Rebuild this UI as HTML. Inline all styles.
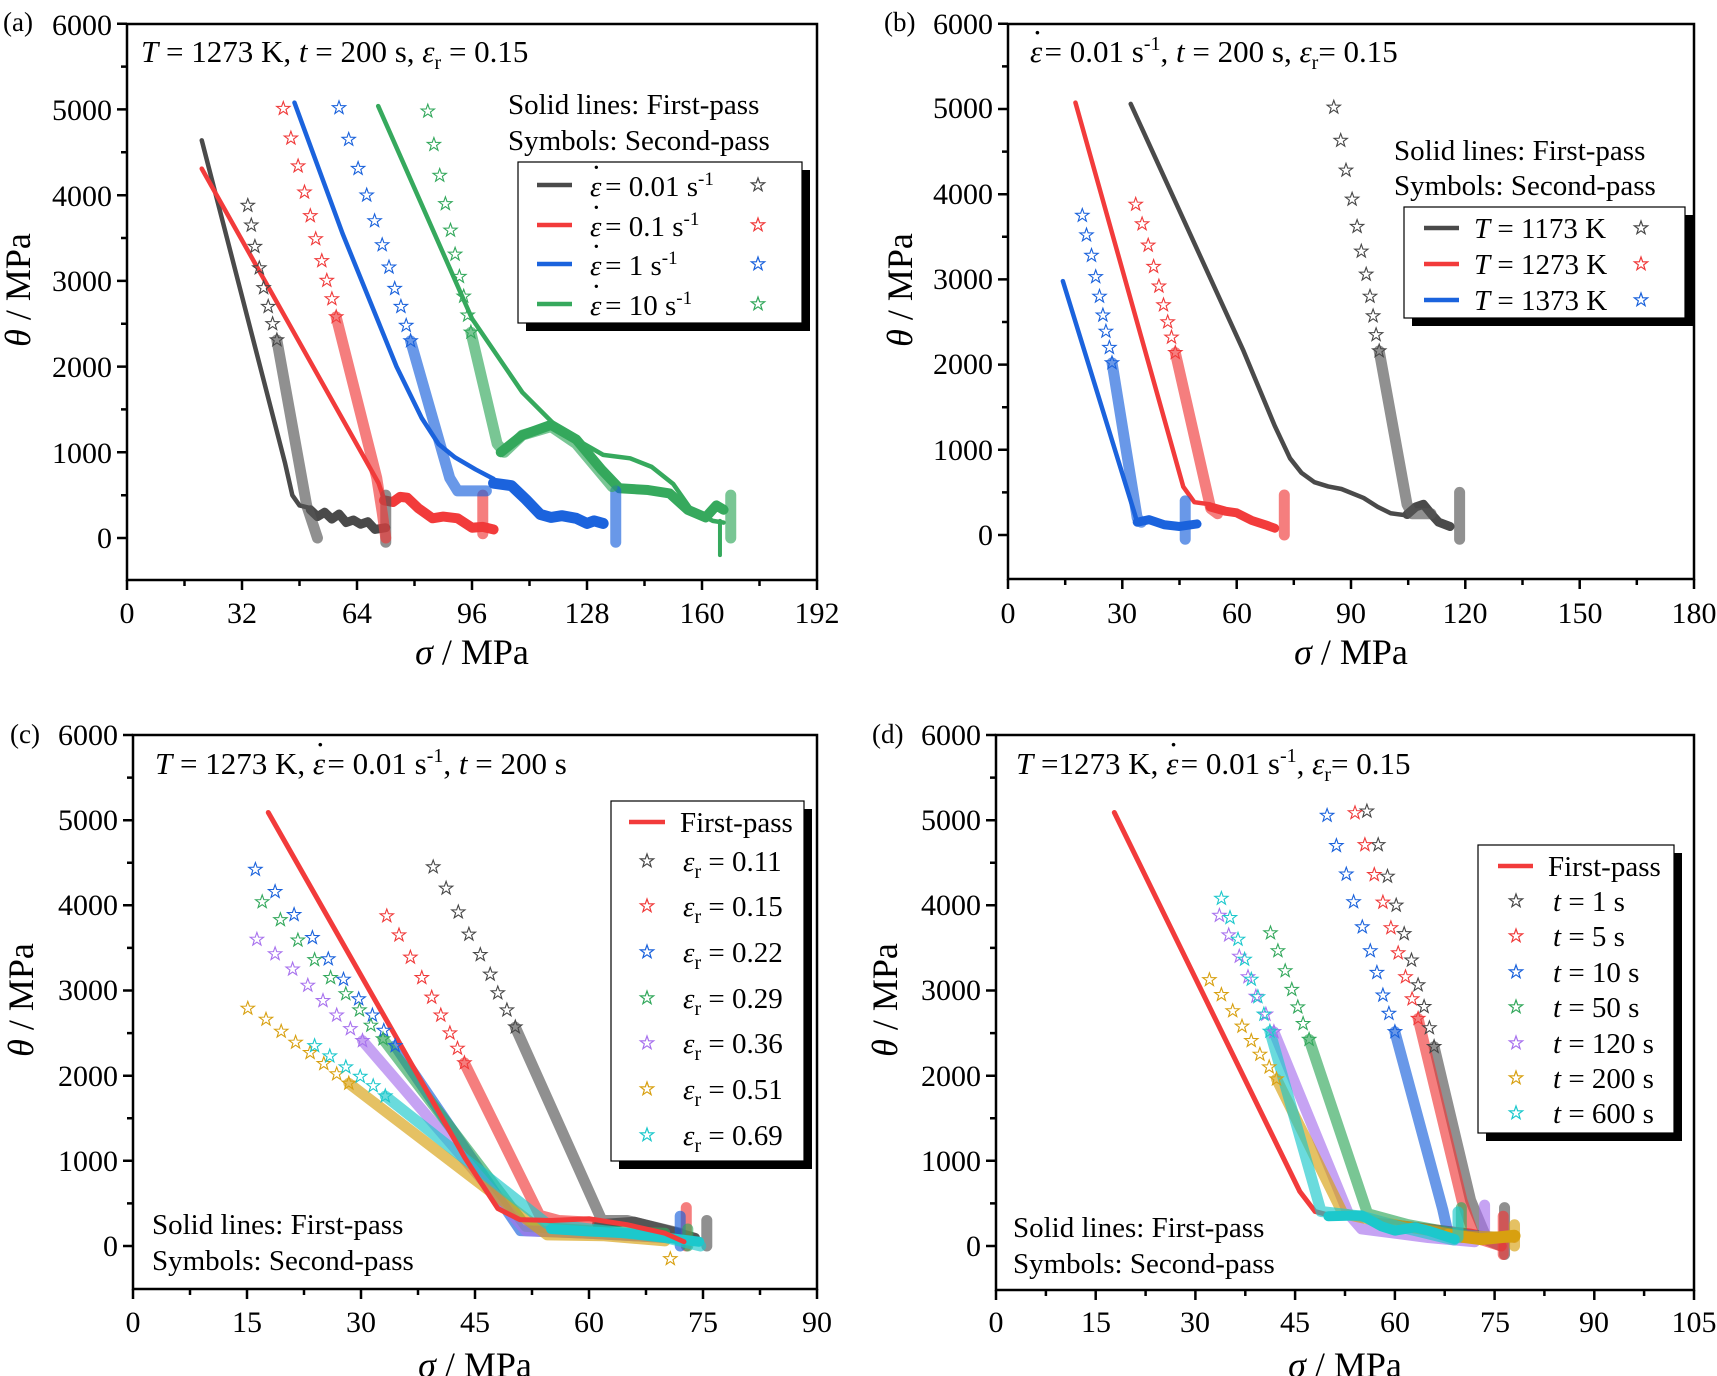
<!DOCTYPE html>
<html><head><meta charset="utf-8">
<style>
html,body{margin:0;padding:0;background:#fff;}
svg{display:block;}
text{font-family:"Liberation Serif","DejaVu Serif",serif;fill:#000;}
.tk{font-size:30px;}
.tl{font-size:36px;}
.an{font-size:31px;}
.lg{font-size:29px;}
.pl{font-size:27px;}
.dl path{vector-effect:non-scaling-stroke;fill:none;stroke-linejoin:round;stroke-linecap:round;}
.sb{stroke-width:11px;opacity:0.65;}
</style></head>
<body>
<svg width="1717" height="1376" viewBox="0 0 1717 1376" xmlns="http://www.w3.org/2000/svg">
<defs>
<path id="st" d="M0,-7 L1.65,-2.27 L6.66,-2.16 L2.66,0.87 L4.11,5.66 L0,2.8 L-4.11,5.66 L-2.66,0.87 L-6.66,-2.16 L-1.65,-2.27 Z"/>
</defs>
<rect width="1717" height="1376" fill="#fff"/>

<!-- ============ PANEL A DATA ============ -->
<g class="dl" transform="translate(127,538) scale(3.59375,-0.0857)">
<path d="M20.8,4640 L44,870 L46,500 L48,380 L51,350" stroke="#4a4a4a" stroke-width="4.5"/>
<path d="M51,330 L53,250 L55,300 L57,220 L59,280 L61,180 L63,210 L65,160 L67,190 L69,100 L72,120" stroke="#4a4a4a" stroke-width="9"/>
<path d="M20.8,4310 L70,640 L71.5,455" stroke="#f23b3b" stroke-width="4.5"/>
<path d="M71.5,440 L74,420 L76,480 L78,470 L81,350 L85,230 L88,250 L92,230 L96,120 L99,130 L102,100" stroke="#f23b3b" stroke-width="10"/>
<path d="M46.6,5080 L60,3550 L75,2000 L82,1400 L86.7,1095 L91.3,940 L97,800 L102,690" stroke="#1b63dd" stroke-width="4.5"/>
<path d="M102,640 L107,610 L111,450 L115,275 L118,240 L121,260 L125,230 L128,170 L130,200 L132.5,170" stroke="#1b63dd" stroke-width="11"/>
<path d="M69.9,5040 L96,2560 L110,1700 L118.8,1330 L125,1150 L132.5,970 L140,930 L146,830 L152,630 L157,330 L163,200 L166,180" stroke="#36a95d" stroke-width="4.5"/>
<path d="M104,1000 L110,1200 L118,1320 L125,1150 L132,800 L137,580 L145,560 L151,520 L156,330 L161,240 L164,380 L166,330" stroke="#36a95d" stroke-width="10"/>
<path d="M165,200 L165,-200" stroke="#36a95d" stroke-width="4"/>
<path class="sb" d="M41.7,2310 L50,380 L53,0" stroke="#555"/>
<path class="sb" d="M72,-50 L72,500" stroke="#555"/>
<path class="sb" d="M58.2,2580 L69.5,700 L71,300 L72,0" stroke="#f03a3a"/>
<path class="sb" d="M99,50 L99,500" stroke="#f03a3a"/>
<path class="sb" d="M78.9,2300 L89.8,700 L92,550 L100,550" stroke="#1a62dc"/>
<path class="sb" d="M136,-50 L136,550" stroke="#1a62dc"/>
<path class="sb" d="M95.7,2400 L103,1100 L105,1000 L110,1200 L118,1300 L125,1100 L135,600" stroke="#33a85c"/>
<path class="sb" d="M168,0 L168,500" stroke="#33a85c"/>
</g>
<g fill="none" stroke-width="1.1">
<g stroke="#474747"><use href="#st" x="247.8" y="205.5"/><use href="#st" x="251.3" y="225.2"/><use href="#st" x="254.9" y="246.6"/><use href="#st" x="259.3" y="268"/><use href="#st" x="263.6" y="287.8"/><use href="#st" x="268.2" y="306.6"/><use href="#st" x="272.6" y="323.8"/><use href="#st" x="276.9" y="340"/></g>
<g stroke="#f03a3a"><use href="#st" x="283.3" y="108.6"/><use href="#st" x="290.9" y="138.2"/><use href="#st" x="298.1" y="166.1"/><use href="#st" x="304.5" y="192.2"/><use href="#st" x="310.3" y="215.8"/><use href="#st" x="315.7" y="238.9"/><use href="#st" x="321.8" y="260.8"/><use href="#st" x="326.8" y="280.5"/><use href="#st" x="331.9" y="298.9"/><use href="#st" x="336.2" y="316.9"/></g>
<g stroke="#1a62dc"><use href="#st" x="339" y="107.8"/><use href="#st" x="348.7" y="139.5"/><use href="#st" x="358.1" y="168.6"/><use href="#st" x="366.7" y="195.2"/><use href="#st" x="374.6" y="220.9"/><use href="#st" x="382.2" y="244.9"/><use href="#st" x="389" y="267.2"/><use href="#st" x="394.7" y="288.6"/><use href="#st" x="400.9" y="306.6"/><use href="#st" x="406.2" y="325.5"/><use href="#st" x="410.6" y="340.9"/></g>
<g stroke="#33a85c"><use href="#st" x="427.8" y="111.2"/><use href="#st" x="433.9" y="144.6"/><use href="#st" x="439.7" y="175.5"/><use href="#st" x="445.4" y="203.8"/><use href="#st" x="450.5" y="230.3"/><use href="#st" x="455.1" y="254.3"/><use href="#st" x="459.4" y="276.6"/><use href="#st" x="463.7" y="296.3"/><use href="#st" x="467.7" y="315.2"/><use href="#st" x="470.9" y="332.3"/></g>
</g>

<!-- ============ PANEL B DATA ============ -->
<g class="dl" transform="translate(1008,535) scale(3.8111,-0.0852)">
<path d="M32.2,5060 L61.8,2160 L70,1280 L74,900 L77,730 L80.4,620 L84,570 L87.5,540 L93.3,435 L97,330 L100.4,255 L104.7,230" stroke="#4a4a4a" stroke-width="4.5"/>
<path d="M104.7,240 L107,330 L109,360 L111,250 L113,150 L116,100" stroke="#4a4a4a" stroke-width="9"/>
<path d="M17.7,5075 L46,565 L48.9,385 L53,360" stroke="#f23b3b" stroke-width="4.5"/>
<path d="M53,330 L57,280 L60,260 L64,170 L67.5,120 L70,80" stroke="#f23b3b" stroke-width="9"/>
<path d="M14.4,2980 L33.2,255 L33.9,150" stroke="#1b63dd" stroke-width="4.5"/>
<path d="M33.9,150 L37,180 L41,120 L45,100 L49.6,130" stroke="#1b63dd" stroke-width="9"/>
<path class="sb" d="M97.4,2160 L104.7,360 L106,250 L111,250" stroke="#555"/>
<path class="sb" d="M118.5,-50 L118.5,500" stroke="#555"/>
<path class="sb" d="M43.9,2140 L53.2,310 L55,250" stroke="#f03a3a"/>
<path class="sb" d="M72.5,0 L72.5,470" stroke="#f03a3a"/>
<path class="sb" d="M27.3,2020 L33.9,200 L35,150" stroke="#1a62dc"/>
<path class="sb" d="M46.5,-50 L46.5,400" stroke="#1a62dc"/>
</g>
<g fill="none" stroke-width="1.1">
<g stroke="#474747"><use href="#st" x="1333.8" y="107.3"/><use href="#st" x="1340.7" y="140.5"/><use href="#st" x="1346" y="170.3"/><use href="#st" x="1352.1" y="199.3"/><use href="#st" x="1357.1" y="226.6"/><use href="#st" x="1361.3" y="251.3"/><use href="#st" x="1366.2" y="274.3"/><use href="#st" x="1370" y="296.4"/><use href="#st" x="1373.1" y="316"/><use href="#st" x="1376.1" y="334.8"/><use href="#st" x="1379.2" y="351"/></g>
<g stroke="#f03a3a"><use href="#st" x="1135.7" y="204.4"/><use href="#st" x="1142.1" y="224"/><use href="#st" x="1148.2" y="245.3"/><use href="#st" x="1153.6" y="266.6"/><use href="#st" x="1158.9" y="286.2"/><use href="#st" x="1163.5" y="305"/><use href="#st" x="1167.7" y="322"/><use href="#st" x="1171.5" y="337.3"/><use href="#st" x="1175.3" y="352.7"/></g>
<g stroke="#1a62dc"><use href="#st" x="1082.3" y="215.5"/><use href="#st" x="1086.5" y="235.1"/><use href="#st" x="1091.5" y="255.5"/><use href="#st" x="1095.7" y="276.8"/><use href="#st" x="1099.5" y="296.4"/><use href="#st" x="1102.9" y="315.2"/><use href="#st" x="1105.9" y="331.4"/><use href="#st" x="1109.4" y="347.6"/><use href="#st" x="1112" y="362.9"/></g>
</g>

<!-- ============ PANEL C DATA ============ -->
<g class="dl" transform="translate(133,1246) scale(7.6,-0.08517)">
<path d="M61,260 L66,290 L70,200 L74,100" stroke="#555" stroke-width="9"/>
<path class="sb" d="M50.3,2570 L61.7,300 L65,300 L72,150" stroke="#555"/>
<path class="sb" d="M75.5,0 L75.5,300" stroke="#555"/>
<path class="sb" d="M43.6,2150 L53.5,360 L56,300 L60,280" stroke="#f03a3a"/>
<path class="sb" d="M72.8,0 L72.8,450" stroke="#f03a3a"/>
<path class="sb" d="M34.5,2350 L51,180 L60,150 L70,100" stroke="#1a62dc"/>
<path class="sb" d="M72,0 L72,350" stroke="#1a62dc"/>
<path class="sb" d="M32.9,2430 L51.7,230 L60,180 L70,150" stroke="#33a85c"/>
<path class="sb" d="M73,0 L73,200" stroke="#33a85c"/>
<path class="sb" d="M30.2,2410 L51.7,180 L60,150 L70,100" stroke="#a872ee"/>
<path class="sb" d="M28.4,1910 L54.5,130 L62,120 L70,60" stroke="#d8a010"/>
<path class="sb" d="M33.2,1760 L54.5,260 L62,180 L70,100 L74.7,0" stroke="#1cc8cc"/>
<path d="M55,200 L60,170 L65,150 L70,100 L74.5,50" stroke="#1cc8cc" stroke-width="10"/>
<path d="M17.8,5090 L43.7,1030 L48,440 L50.9,310 L55,300 L60,320 L65,250 L70,150 L72.5,50" stroke="#f23b3b" stroke-width="5"/>
</g>
<g fill="none" stroke-width="1.1">
<g stroke="#474747"><use href="#st" x="433.2" y="867"/><use href="#st" x="446.1" y="888.3"/><use href="#st" x="458.3" y="912.1"/><use href="#st" x="468.9" y="934.3"/><use href="#st" x="480.3" y="954.7"/><use href="#st" x="490.2" y="974.3"/><use href="#st" x="497.8" y="993"/><use href="#st" x="506.9" y="1010.1"/><use href="#st" x="515.3" y="1027.1"/></g>
<g stroke="#f03a3a"><use href="#st" x="386.8" y="916"/><use href="#st" x="399" y="935.1"/><use href="#st" x="410.4" y="957.3"/><use href="#st" x="421.8" y="977.7"/><use href="#st" x="431.7" y="997.3"/><use href="#st" x="440.8" y="1015.2"/><use href="#st" x="449.9" y="1033.1"/><use href="#st" x="457.5" y="1048.4"/><use href="#st" x="464.4" y="1062.9"/></g>
<g stroke="#1a62dc"><use href="#st" x="255.4" y="869.5"/><use href="#st" x="275.1" y="891.7"/><use href="#st" x="294.1" y="914.7"/><use href="#st" x="312.4" y="937.7"/><use href="#st" x="328.3" y="959"/><use href="#st" x="343.5" y="979.4"/><use href="#st" x="358.7" y="999"/><use href="#st" x="372.4" y="1015.2"/><use href="#st" x="383.8" y="1030.5"/><use href="#st" x="395.2" y="1045.8"/></g>
<g stroke="#33a85c"><use href="#st" x="262.2" y="901.9"/><use href="#st" x="280.4" y="919.8"/><use href="#st" x="297.9" y="940.2"/><use href="#st" x="314.6" y="959.8"/><use href="#st" x="330.6" y="977.7"/><use href="#st" x="345.8" y="993.9"/><use href="#st" x="359.5" y="1010.1"/><use href="#st" x="370.9" y="1025.4"/><use href="#st" x="383" y="1039"/></g>
<g stroke="#a872ee"><use href="#st" x="256.9" y="939.4"/><use href="#st" x="275.1" y="953.9"/><use href="#st" x="292.6" y="969.2"/><use href="#st" x="307.8" y="985.4"/><use href="#st" x="323" y="1000.7"/><use href="#st" x="336.7" y="1015.2"/><use href="#st" x="350.4" y="1028.8"/><use href="#st" x="362.5" y="1040.7"/></g>
<g stroke="#d8a010"><use href="#st" x="247.8" y="1008.4"/><use href="#st" x="266" y="1019.4"/><use href="#st" x="281.2" y="1031.4"/><use href="#st" x="295.6" y="1042.4"/><use href="#st" x="310.1" y="1052.7"/><use href="#st" x="323.8" y="1063.7"/><use href="#st" x="336.7" y="1074"/><use href="#st" x="348.8" y="1083.3"/><use href="#st" x="670.3" y="1258.8"/></g>
<g stroke="#1cc8cc"><use href="#st" x="314.6" y="1045.8"/><use href="#st" x="329.8" y="1056.1"/><use href="#st" x="345.8" y="1067.1"/><use href="#st" x="360.2" y="1076.5"/><use href="#st" x="373.2" y="1085.9"/><use href="#st" x="385.3" y="1096.1"/></g>
</g>

<!-- ============ PANEL D DATA ============ -->
<g class="dl" transform="translate(996,1246) scale(6.6476,-0.08517)">
<path d="M17.8,5090 L45.7,640 L48,405 L50.5,355 L60,280 L71.4,175 L78,70" stroke="#f23b3b" stroke-width="5"/>
<path class="sb" d="M65.9,2340 L71.4,535 L73.9,70 L76,0" stroke="#555"/>
<path class="sb" d="M76.5,-100 L76.5,450" stroke="#555"/>
<path class="sb" d="M63.5,2670 L70.1,535 L72,100 L76,0" stroke="#f03a3a"/>
<path class="sb" d="M76.3,-100 L76.3,350" stroke="#f03a3a"/>
<path class="sb" d="M60,2515 L67.2,430 L68,150 L75,100" stroke="#1a62dc"/>
<path class="sb" d="M47.1,2425 L55.9,380 L62,250 L69,150" stroke="#33a85c"/>
<path class="sb" d="M70,100 L70,450" stroke="#33a85c"/>
<path class="sb" d="M41.8,2515 L53,380 L55,200 L65,100 L72,50" stroke="#a872ee"/>
<path class="sb" d="M73.5,100 L73.5,480" stroke="#a872ee"/>
<path class="sb" d="M42.2,1960 L52.2,380 L60,250 L70,120 L78,100" stroke="#d8a010"/>
<path d="M68,130 L73,80 L78,120" stroke="#d8a010" stroke-width="12"/>
<path class="sb" d="M78,0 L78,250" stroke="#d8a010"/>
<path class="sb" d="M41.2,2520 L48.9,405 L55,350 L62,200 L68.9,70" stroke="#1cc8cc"/>
<path d="M50,350 L55,360 L58,230 L60,180 L63,220 L65,180 L69,80" stroke="#1cc8cc" stroke-width="10"/>
<path class="sb" d="M69.5,100 L69.5,400" stroke="#1cc8cc"/>
</g>
<g fill="none" stroke-width="1.1">
<g stroke="#474747"><use href="#st" x="1366.9" y="811.2"/><use href="#st" x="1378.2" y="844.8"/><use href="#st" x="1387.5" y="876.4"/><use href="#st" x="1396.2" y="905.3"/><use href="#st" x="1404.2" y="933.8"/><use href="#st" x="1411.5" y="960.2"/><use href="#st" x="1418.1" y="985"/><use href="#st" x="1424.1" y="1006.7"/><use href="#st" x="1429.4" y="1027.9"/><use href="#st" x="1434.1" y="1046.7"/></g>
<g stroke="#f03a3a"><use href="#st" x="1355" y="812.9"/><use href="#st" x="1364.9" y="844.8"/><use href="#st" x="1374.3" y="874.7"/><use href="#st" x="1382.9" y="902.3"/><use href="#st" x="1390.9" y="927.9"/><use href="#st" x="1398.2" y="953"/><use href="#st" x="1405.5" y="976.9"/><use href="#st" x="1412.1" y="999"/><use href="#st" x="1418.1" y="1018.6"/></g>
<g stroke="#1a62dc"><use href="#st" x="1327.1" y="815.5"/><use href="#st" x="1336.4" y="845.7"/><use href="#st" x="1346.3" y="874.2"/><use href="#st" x="1353.6" y="901.9"/><use href="#st" x="1362.3" y="927"/><use href="#st" x="1370.3" y="950.9"/><use href="#st" x="1376.9" y="972.6"/><use href="#st" x="1382.9" y="995.2"/><use href="#st" x="1388.9" y="1013.5"/><use href="#st" x="1394.9" y="1031.8"/></g>
<g stroke="#33a85c"><use href="#st" x="1270.5" y="933"/><use href="#st" x="1277.9" y="950.9"/><use href="#st" x="1285.2" y="970.9"/><use href="#st" x="1291.8" y="989.6"/><use href="#st" x="1297.8" y="1007.1"/><use href="#st" x="1303.1" y="1023.7"/><use href="#st" x="1309.1" y="1039.5"/></g>
<g stroke="#a872ee"><use href="#st" x="1219.4" y="915.5"/><use href="#st" x="1228.7" y="935.1"/><use href="#st" x="1239.3" y="956.4"/><use href="#st" x="1248" y="976.9"/><use href="#st" x="1255.9" y="996.4"/><use href="#st" x="1265.9" y="1014.3"/><use href="#st" x="1273.9" y="1031.8"/></g>
<g stroke="#d8a010"><use href="#st" x="1209.4" y="979.8"/><use href="#st" x="1221.4" y="994.7"/><use href="#st" x="1232.7" y="1010.9"/><use href="#st" x="1242" y="1026.3"/><use href="#st" x="1251.3" y="1040.7"/><use href="#st" x="1259.9" y="1054.4"/><use href="#st" x="1269.2" y="1067.1"/><use href="#st" x="1276.5" y="1079.1"/></g>
<g stroke="#1cc8cc"><use href="#st" x="1221.4" y="898.5"/><use href="#st" x="1230" y="917.7"/><use href="#st" x="1238" y="939.4"/><use href="#st" x="1244.6" y="959.4"/><use href="#st" x="1251.3" y="979.4"/><use href="#st" x="1257.9" y="996.9"/><use href="#st" x="1263.9" y="1014.3"/><use href="#st" x="1269.9" y="1031.4"/></g>
</g>

<!-- ============ AXES ============ -->
<g stroke="#000" stroke-width="2.5" fill="none">
<path d="M127,24H817V580H127Z"/>
<path d="M127,580v10M242,580v10M357,580v10M472,580v10M587,580v10M702,580v10M817,580v10M184.5,580v6M299.5,580v6M414.5,580v6M529.5,580v6M644.5,580v6M759.5,580v6"/>
<path d="M127,538h-10M127,495.2h-6M127,452.3h-10M127,409.4h-6M127,366.6h-10M127,323.7h-6M127,280.9h-10M127,238h-6M127,195.2h-10M127,152.3h-6M127,109.4h-10M127,66.6h-6M127,23.7h-10"/>
<path d="M1008,24H1694V579H1008Z"/>
<path d="M1008,579v10M1122.3,579v10M1236.7,579v10M1351,579v10M1465.3,579v10M1579.7,579v10M1694,579v10M1065.2,579v6M1179.5,579v6M1293.8,579v6M1408.2,579v6M1522.5,579v6M1636.8,579v6"/>
<path d="M1008,535h-10M1008,492.4h-6M1008,449.8h-10M1008,407.2h-6M1008,364.6h-10M1008,322h-6M1008,279.4h-10M1008,236.8h-6M1008,194.2h-10M1008,151.6h-6M1008,109h-10M1008,66.4h-6M1008,23.8h-10"/>
<path d="M133,735H817V1289H133Z"/>
<path d="M133,1289v10M247,1289v10M361,1289v10M475,1289v10M589,1289v10M703,1289v10M817,1289v10M190,1289v6M304,1289v6M418,1289v6M532,1289v6M646,1289v6M760,1289v6"/>
<path d="M133,1246h-10M133,1203.4h-6M133,1160.8h-10M133,1118.2h-6M133,1075.7h-10M133,1033.1h-6M133,990.5h-10M133,947.9h-6M133,905.3h-10M133,862.7h-6M133,820.2h-10M133,777.6h-6M133,735h-10"/>
<path d="M996,735H1694V1290H996Z"/>
<path d="M996,1290v10M1095.7,1290v10M1195.4,1290v10M1295.1,1290v10M1394.9,1290v10M1494.6,1290v10M1594.3,1290v10M1694,1290v10M1045.9,1290v6M1145.6,1290v6M1245.3,1290v6M1345,1290v6M1444.7,1290v6M1544.4,1290v6M1644.1,1290v6"/>
<path d="M996,1246h-10M996,1203.4h-6M996,1160.8h-10M996,1118.2h-6M996,1075.7h-10M996,1033.1h-6M996,990.5h-10M996,947.9h-6M996,905.3h-10M996,862.7h-6M996,820.2h-10M996,777.6h-6M996,735h-10"/>
</g>

<!-- Panel letters -->
<text class="pl" x="3" y="31">(a)</text>
<text class="pl" x="884" y="31">(b)</text>
<text class="pl" x="10" y="743">(c)</text>
<text class="pl" x="872" y="743">(d)</text>

<!-- Tick labels -->
<g class="tk" text-anchor="end">
<text x="112" y="548">0</text><text x="112" y="463">1000</text><text x="112" y="377">2000</text><text x="112" y="291">3000</text><text x="112" y="206">4000</text><text x="112" y="120">5000</text><text x="112" y="35">6000</text>
<text x="993" y="545">0</text><text x="993" y="460">1000</text><text x="993" y="374">2000</text><text x="993" y="289">3000</text><text x="993" y="204">4000</text><text x="993" y="118">5000</text><text x="993" y="34">6000</text>
<text x="118" y="1256">0</text><text x="118" y="1171">1000</text><text x="118" y="1086">2000</text><text x="118" y="1000">3000</text><text x="118" y="915">4000</text><text x="118" y="830">5000</text><text x="118" y="745">6000</text>
<text x="981" y="1256">0</text><text x="981" y="1171">1000</text><text x="981" y="1086">2000</text><text x="981" y="1000">3000</text><text x="981" y="915">4000</text><text x="981" y="830">5000</text><text x="981" y="745">6000</text>
</g>
<g class="tk" text-anchor="middle">
<text x="127" y="623">0</text><text x="242" y="623">32</text><text x="357" y="623">64</text><text x="472" y="623">96</text><text x="587" y="623">128</text><text x="702" y="623">160</text><text x="817" y="623">192</text>
<text x="1008" y="623">0</text><text x="1122" y="623">30</text><text x="1237" y="623">60</text><text x="1351" y="623">90</text><text x="1465" y="623">120</text><text x="1580" y="623">150</text><text x="1694" y="623">180</text>
<text x="133" y="1332">0</text><text x="247" y="1332">15</text><text x="361" y="1332">30</text><text x="475" y="1332">45</text><text x="589" y="1332">60</text><text x="703" y="1332">75</text><text x="817" y="1332">90</text>
<text x="996" y="1332">0</text><text x="1096" y="1332">15</text><text x="1195" y="1332">30</text><text x="1295" y="1332">45</text><text x="1395" y="1332">60</text><text x="1495" y="1332">75</text><text x="1594" y="1332">90</text><text x="1694" y="1332">105</text>
</g>
<g class="tl" text-anchor="middle">
<text x="472" y="664"><tspan font-style="italic">σ</tspan> / MPa</text>
<text x="1351" y="664"><tspan font-style="italic">σ</tspan> / MPa</text>
<text x="475" y="1377"><tspan font-style="italic">σ</tspan> / MPa</text>
<text x="1345" y="1377"><tspan font-style="italic">σ</tspan> / MPa</text>
<text transform="translate(30,290) rotate(-90)"><tspan font-style="italic">θ</tspan> / MPa</text>
<text transform="translate(912,290) rotate(-90)"><tspan font-style="italic">θ</tspan> / MPa</text>
<text transform="translate(33,1000) rotate(-90)"><tspan font-style="italic">θ</tspan> / MPa</text>
<text transform="translate(897,1000) rotate(-90)"><tspan font-style="italic">θ</tspan> / MPa</text>
</g>

<!-- Annotations -->
<g class="an">
<text x="141" y="62"><tspan font-style="italic">T</tspan> = 1273 K, <tspan font-style="italic">t</tspan> = 200 s, <tspan font-style="italic">ε</tspan><tspan font-size="20" dy="7">r</tspan><tspan dy="-7"> = 0.15</tspan></text>
<text x="1030" y="62"><tspan font-style="italic">ε</tspan><tspan dx="-10" dy="-19">·</tspan><tspan dx="2" dy="19">= 0.01 s</tspan><tspan font-size="20" dy="-12">-1</tspan><tspan dy="12">, </tspan><tspan font-style="italic">t</tspan> = 200 s, <tspan font-style="italic">ε</tspan><tspan font-size="20" dy="7">r</tspan><tspan dy="-7">= 0.15</tspan></text>
<text x="155" y="774"><tspan font-style="italic">T</tspan> = 1273 K, <tspan font-style="italic">ε</tspan><tspan dx="-10" dy="-19">·</tspan><tspan dx="2" dy="19">= 0.01 s</tspan><tspan font-size="20" dy="-12">-1</tspan><tspan dy="12">, </tspan><tspan font-style="italic">t</tspan> = 200 s</text>
<text x="1016" y="774"><tspan font-style="italic">T</tspan> =1273 K, <tspan font-style="italic">ε</tspan><tspan dx="-10" dy="-19">·</tspan><tspan dx="2" dy="19">= 0.01 s</tspan><tspan font-size="20" dy="-12">-1</tspan><tspan dy="12">, </tspan><tspan font-style="italic">ε</tspan><tspan font-size="20" dy="7">r</tspan><tspan dy="-7">= 0.15</tspan></text>
</g>

<g class="lg">
<text x="508" y="114">Solid lines: First-pass</text>
<text x="508" y="150">Symbols: Second-pass</text>
<text x="1394" y="160">Solid lines: First-pass</text>
<text x="1394" y="195">Symbols: Second-pass</text>
<text x="152" y="1234">Solid lines: First-pass</text>
<text x="152" y="1270">Symbols: Second-pass</text>
<text x="1013" y="1237">Solid lines: First-pass</text>
<text x="1013" y="1273">Symbols: Second-pass</text>
</g>

<!-- Legend boxes -->
<rect x="526" y="170" width="284" height="161" fill="#000"/>
<rect x="518" y="162" width="284" height="161" fill="#fff" stroke="#000" stroke-width="1.2"/>
<rect x="1412" y="215" width="281" height="111" fill="#000"/>
<rect x="1404" y="207" width="281" height="111" fill="#fff" stroke="#000" stroke-width="1.2"/>
<rect x="619" y="809" width="193" height="360" fill="#000"/>
<rect x="611" y="801" width="193" height="360" fill="#fff" stroke="#000" stroke-width="1.2"/>
<rect x="1486" y="853" width="196" height="288" fill="#000"/>
<rect x="1478" y="845" width="196" height="288" fill="#fff" stroke="#000" stroke-width="1.2"/>

<g class="lg">
<text x="590" y="196"><tspan font-style="italic">ε</tspan><tspan dx="-10" dy="-19">·</tspan><tspan dx="4" dy="19">= 0.01 s</tspan><tspan font-size="19" dy="-11">-1</tspan></text>
<text x="590" y="236"><tspan font-style="italic">ε</tspan><tspan dx="-10" dy="-19">·</tspan><tspan dx="4" dy="19">= 0.1 s</tspan><tspan font-size="19" dy="-11">-1</tspan></text>
<text x="590" y="275"><tspan font-style="italic">ε</tspan><tspan dx="-10" dy="-19">·</tspan><tspan dx="4" dy="19">= 1 s</tspan><tspan font-size="19" dy="-11">-1</tspan></text>
<text x="590" y="315"><tspan font-style="italic">ε</tspan><tspan dx="-10" dy="-19">·</tspan><tspan dx="4" dy="19">= 10 s</tspan><tspan font-size="19" dy="-11">-1</tspan></text>

<text x="1474" y="238"><tspan font-style="italic">T</tspan> = 1173 K</text>
<text x="1474" y="274"><tspan font-style="italic">T</tspan> = 1273 K</text>
<text x="1474" y="310"><tspan font-style="italic">T</tspan> = 1373 K</text>

<text x="680" y="832">First-pass</text>
<text x="683" y="871"><tspan font-style="italic">ε</tspan><tspan font-size="20" dy="7">r</tspan><tspan dy="-7"> = 0.11</tspan></text>
<text x="683" y="916"><tspan font-style="italic">ε</tspan><tspan font-size="20" dy="7">r</tspan><tspan dy="-7"> = 0.15</tspan></text>
<text x="683" y="962"><tspan font-style="italic">ε</tspan><tspan font-size="20" dy="7">r</tspan><tspan dy="-7"> = 0.22</tspan></text>
<text x="683" y="1008"><tspan font-style="italic">ε</tspan><tspan font-size="20" dy="7">r</tspan><tspan dy="-7"> = 0.29</tspan></text>
<text x="683" y="1053"><tspan font-style="italic">ε</tspan><tspan font-size="20" dy="7">r</tspan><tspan dy="-7"> = 0.36</tspan></text>
<text x="683" y="1099"><tspan font-style="italic">ε</tspan><tspan font-size="20" dy="7">r</tspan><tspan dy="-7"> = 0.51</tspan></text>
<text x="683" y="1145"><tspan font-style="italic">ε</tspan><tspan font-size="20" dy="7">r</tspan><tspan dy="-7"> = 0.69</tspan></text>

<text x="1548" y="876">First-pass</text>
<text x="1553" y="911"><tspan font-style="italic">t</tspan> = 1 s</text>
<text x="1553" y="946"><tspan font-style="italic">t</tspan> = 5 s</text>
<text x="1553" y="982"><tspan font-style="italic">t</tspan> = 10 s</text>
<text x="1553" y="1017"><tspan font-style="italic">t</tspan> = 50 s</text>
<text x="1553" y="1053"><tspan font-style="italic">t</tspan> = 120 s</text>
<text x="1553" y="1088"><tspan font-style="italic">t</tspan> = 200 s</text>
<text x="1553" y="1123"><tspan font-style="italic">t</tspan> = 600 s</text>
</g>

<!-- Legend symbols -->
<g stroke-width="4.5">
<line x1="537" y1="185" x2="572" y2="185" stroke="#4a4a4a"/>
<line x1="537" y1="225" x2="572" y2="225" stroke="#f23b3b"/>
<line x1="537" y1="264" x2="572" y2="264" stroke="#1b63dd"/>
<line x1="537" y1="304" x2="572" y2="304" stroke="#36a95d"/>
<line x1="1424" y1="228" x2="1459" y2="228" stroke="#4a4a4a"/>
<line x1="1424" y1="264" x2="1459" y2="264" stroke="#f23b3b"/>
<line x1="1424" y1="300" x2="1459" y2="300" stroke="#1b63dd"/>
<line x1="629" y1="822" x2="665" y2="822" stroke="#f23b3b"/>
<line x1="1498" y1="866" x2="1533" y2="866" stroke="#f23b3b"/>
</g>
<g fill="none" stroke-width="1.2">
<use href="#st" x="758" y="185" stroke="#474747"/><use href="#st" x="758" y="225" stroke="#f03a3a"/><use href="#st" x="758" y="264" stroke="#1a62dc"/><use href="#st" x="758" y="304" stroke="#33a85c"/>
<use href="#st" x="1641" y="228" stroke="#474747"/><use href="#st" x="1641" y="264" stroke="#f03a3a"/><use href="#st" x="1641" y="300" stroke="#1a62dc"/>
<use href="#st" x="647" y="861" stroke="#474747"/><use href="#st" x="647" y="906" stroke="#f03a3a"/><use href="#st" x="647" y="952" stroke="#1a62dc"/><use href="#st" x="647" y="998" stroke="#33a85c"/><use href="#st" x="647" y="1043" stroke="#a872ee"/><use href="#st" x="647" y="1089" stroke="#d8a010"/><use href="#st" x="647" y="1135" stroke="#1cc8cc"/>
<use href="#st" x="1516" y="901" stroke="#474747"/><use href="#st" x="1516" y="936" stroke="#f03a3a"/><use href="#st" x="1516" y="972" stroke="#1a62dc"/><use href="#st" x="1516" y="1007" stroke="#33a85c"/><use href="#st" x="1516" y="1043" stroke="#a872ee"/><use href="#st" x="1516" y="1078" stroke="#d8a010"/><use href="#st" x="1516" y="1113" stroke="#1cc8cc"/>
</g>
</svg>
</body></html>
